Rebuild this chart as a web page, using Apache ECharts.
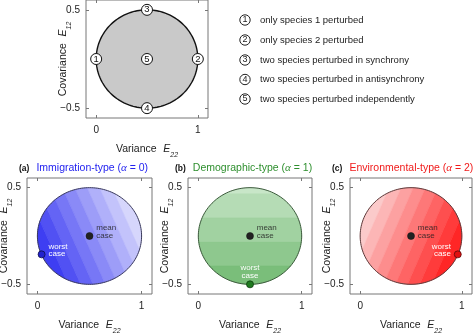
<!DOCTYPE html>
<html><head><meta charset="utf-8">
<script src="https://cdn.jsdelivr.net/npm/echarts@6/dist/echarts.min.js"></script>
<style>html,body{margin:0;padding:0;background:#fff}#c{width:474px;height:333px}</style>
</head><body><div id="c"></div>
<script>
// ---------------- data ----------------
const xTickValues = [0, 1];
const yTickValues = [-0.5, 0.5];
const xRange = [-0.1, 1.1];
const yRange = [-0.6, 0.6];
const circleCenter = [0.5, 0];
const circleRadius = 0.5;
const caseNumbers = ['1', '2', '3', '4', '5'];
const caseE22 = [0, 1, 0.5, 0.5, 0.5];
const caseE12 = [0, 0, 0.5, -0.5, 0];
const legendTexts = [
  'only species 1 perturbed',
  'only species 2 perturbed',
  'two species perturbed in synchrony',
  'two species perturbed in antisynchrony',
  'two species perturbed independently'
];
const panelLetters = ['(a)', '(b)', '(c)'];
const panelTypes = ['Immigration-type', 'Demographic-type', 'Environmental-type'];
const alphaValues = [0, 1, 2];
const meanE22 = [0.5, 0.5, 0.5];
const meanE12 = [0, 0, 0];
const worstE22 = [0.04, 0.5, 0.96];
const worstE12 = [-0.19, -0.5, -0.19];
// band edges: signed distance from the circle centre towards the worst case
const bandEdgesA = [-0.5, -0.39, -0.28, -0.17, -0.06, 0.05, 0.16, 0.27, 0.38, 0.5];
const bandEdgesB = [-0.5, -0.44, -0.19, 0.06, 0.31, 0.5];
const bandEdgesC = [-0.5, -0.39, -0.28, -0.17, -0.06, 0.05, 0.16, 0.27, 0.38, 0.5];

// ---------------- styles ----------------
const FONT = 'Liberation Sans, Arial, Helvetica, sans-serif';
const panelColors = ['#2323f0', '#2e8f2e', '#f01a1a'];
const bandLight = [[214, 214, 252], [200, 230, 200], [251, 202, 202]];
const bandDark = [[62, 62, 242], [122, 190, 122], [255, 38, 38]];
const worstFill = ['#2222cc', '#1f7a1f', '#e01010'];
const worstBorder = ['#10104a', '#0d3d0d', '#5a0a0a'];
const outlineColors = ['#3a3a5a', '#3d5a3d', '#5a3a3a'];
const bandEdges = [bandEdgesA, bandEdgesB, bandEdgesC];

const grids = [
  {left: 86, top: 0, width: 122, height: 118},
  {left: 27, top: 178, width: 125, height: 116},
  {left: 188, top: 178, width: 124, height: 116},
  {left: 350, top: 178, width: 122, height: 116}
];

const chart = echarts.init(document.getElementById('c'), null, {renderer: 'canvas'});

const xAxes = [], yAxes = [];
const xName = '{n|Variance}  {e|E}{s|22}';
const yName = '{n|Covariance}  {e|E}{s|12}';
const nameRich = {
  n: {fontSize: 10.5, fontFamily: FONT, color: '#222', lineHeight: 13, verticalAlign: 'top'},
  e: {fontSize: 10.5, fontFamily: FONT, fontStyle: 'italic', color: '#222', lineHeight: 13, verticalAlign: 'top'},
  s: {fontSize: 7, fontFamily: FONT, fontStyle: 'italic', color: '#222', lineHeight: 8, padding: [8, 0, 0, 0], verticalAlign: 'top'}
};
grids.forEach((g, gi) => {
  const tick = {show: true, inside: true, length: 3, lineStyle: {color: '#777', width: 1}, customValues: xTickValues};
  xAxes.push({
    gridIndex: gi, type: 'value', min: xRange[0], max: xRange[1], position: 'bottom',
    axisLine: {show: false, onZero: false}, splitLine: {show: false},
    axisTick: tick,
    axisLabel: {show: true, customValues: xTickValues, margin: 7, fontSize: 10, fontFamily: FONT, color: '#222',
      formatter: v => String(v)},
    name: xName, nameLocation: 'middle', nameGap: 26, nameMoveOverlap: false, nameTextStyle: {rich: nameRich}
  });
  xAxes.push({
    gridIndex: gi, type: 'value', min: xRange[0], max: xRange[1], position: 'top',
    axisLine: {show: false, onZero: false}, splitLine: {show: false},
    axisTick: tick, axisLabel: {show: false}
  });
  const ytick = {show: true, inside: true, length: 3, lineStyle: {color: '#777', width: 1}, customValues: yTickValues};
  yAxes.push({
    gridIndex: gi, type: 'value', min: yRange[0], max: yRange[1], position: 'left',
    axisLine: {show: false, onZero: false}, splitLine: {show: false},
    axisTick: ytick,
    axisLabel: {show: true, customValues: yTickValues, margin: 6, fontSize: 10, fontFamily: FONT, color: '#222',
      formatter: v => (v < 0 ? '\u2212' + String(-v) : String(v))},
    name: yName, nameLocation: 'middle', nameGap: 15, nameRotate: 90, nameMoveOverlap: false, nameTextStyle: {rich: nameRich}
  });
  yAxes.push({
    gridIndex: gi, type: 'value', min: yRange[0], max: yRange[1], position: 'right',
    axisLine: {show: false, onZero: false}, splitLine: {show: false},
    axisTick: ytick, axisLabel: {show: false}
  });
});

function circlePoints(api, n) {
  const pts = [];
  for (let j = 0; j <= n; j++) {
    const p = 2 * Math.PI * j / n;
    pts.push(api.coord([circleCenter[0] + circleRadius * Math.cos(p), circleCenter[1] + circleRadius * Math.sin(p)]));
  }
  return pts;
}
function mix(a, b, t) {
  return 'rgb(' + a.map((v, i) => Math.round(v + (b[i] - v) * t)).join(',') + ')';
}
function clamp(v) { return Math.max(-1, Math.min(1, v)); }

const series = [];
// top panel: shaded circle
series.push({
  type: 'custom', xAxisIndex: 0, yAxisIndex: 0, data: [[circleCenter[0], circleCenter[1]]],
  renderItem: (params, api) => ({
    type: 'polygon', shape: {points: circlePoints(api, 160)},
    style: {fill: '#c9c9c9', stroke: '#111', lineWidth: 1.4}
  }), z: 2
});
series.push({
  type: 'scatter', xAxisIndex: 0, yAxisIndex: 0,
  data: caseE22.map((x, i) => [x, caseE12[i], caseNumbers[i]]),
  symbol: 'circle', symbolSize: 11,
  itemStyle: {color: '#fff', borderColor: '#111', borderWidth: 1, opacity: 1},
  label: {show: true, position: 'inside', formatter: p => p.value[2], fontSize: 9.5, fontFamily: FONT, color: '#111'},
  z: 5
});

// bottom panels
for (let k = 0; k < 3; k++) {
  const ax = 2 * (k + 1);
  const edges = bandEdges[k];
  const nb = edges.length - 1;
  const th = Math.atan2((worstE12[k] - circleCenter[1]) / circleRadius, (worstE22[k] - circleCenter[0]) / circleRadius);
  series.push({
    type: 'custom', xAxisIndex: ax, yAxisIndex: ax,
    data: edges.slice(1).map((e, i) => [edges[i], e]),
    renderItem: (params, api) => {
      const i = params.dataIndex;
      const s0 = edges[i], s1 = edges[i + 1];
      const a1 = Math.acos(clamp(s1 / circleRadius)), a0 = Math.acos(clamp(s0 / circleRadius));
      const pts = [];
      const N = 40;
      for (let j = 0; j <= N; j++) {
        const p = th + a1 + (a0 - a1) * j / N;
        pts.push(api.coord([circleCenter[0] + circleRadius * Math.cos(p), circleCenter[1] + circleRadius * Math.sin(p)]));
      }
      for (let j = 0; j <= N; j++) {
        const p = th - a0 + (a0 - a1) * j / N;
        pts.push(api.coord([circleCenter[0] + circleRadius * Math.cos(p), circleCenter[1] + circleRadius * Math.sin(p)]));
      }
      const c = mix(bandLight[k], bandDark[k], nb > 1 ? i / (nb - 1) : 0);
      return {type: 'polygon', shape: {points: pts}, style: {fill: c, stroke: c, lineWidth: 0.5}};
    },
    z: 2
  });
  series.push({
    type: 'custom', xAxisIndex: ax, yAxisIndex: ax, data: [[circleCenter[0], circleCenter[1]]],
    renderItem: (params, api) => ({
      type: 'polygon', shape: {points: circlePoints(api, 160)},
      style: {fill: null, stroke: outlineColors[k], lineWidth: 1}
    }), z: 3
  });
  series.push({
    type: 'scatter', xAxisIndex: ax, yAxisIndex: ax,
    data: [[meanE22[k], meanE12[k]]], symbolSize: 7,
    itemStyle: {color: '#222', borderColor: '#111', borderWidth: 0.5, opacity: 1},
    label: {show: true, position: 'right', distance: 3, offset: [0, -4], formatter: 'mean\ncase',
      fontSize: 8, lineHeight: 7.5, fontFamily: FONT, color: 'rgba(30,30,30,0.85)', align: 'left'},
    z: 5
  });
  const wl = k === 0 ? {position: 'right', distance: 3, offset: [0, -4], align: 'left'}
    : k === 1 ? {position: 'top', distance: 1, align: 'center'}
    : {position: 'left', distance: 3, offset: [0, -4], align: 'right'};
  series.push({
    type: 'scatter', xAxisIndex: ax, yAxisIndex: ax,
    data: [[worstE22[k], worstE12[k]]], symbolSize: 7,
    itemStyle: {color: worstFill[k], borderColor: worstBorder[k], borderWidth: 0.8, opacity: 1},
    label: Object.assign({show: true, formatter: 'worst\ncase', fontSize: 8, lineHeight: 7.5, fontFamily: FONT, color: '#fff'}, wl),
    z: 5
  });
}

const titleLefts = [19, 175, 332];
const titles = panelTypes.map((t, k) => ({
  left: titleLefts[k], top: 159, padding: 0,
  text: '{b|' + panelLetters[k] + '} {t|' + t + ' (}{g|\u03b1}{t| = ' + alphaValues[k] + ')}',
  textStyle: {fontWeight: 'normal', rich: {
    b: {fontSize: 8.5, fontWeight: 'bold', fontFamily: FONT, color: '#111', padding: [1, 2, 0, 0]},
    t: {fontSize: 10.5, fontWeight: 'normal', fontFamily: FONT, color: panelColors[k]},
    g: {fontSize: 11, fontWeight: 'normal', fontFamily: 'Liberation Serif, DejaVu Serif, serif', fontStyle: 'italic', color: panelColors[k]}
  }}
}));

const legendRowsY = [20, 40, 60, 79.5, 99];
const graphic = [];
legendTexts.forEach((txt, i) => {
  graphic.push({type: 'circle', shape: {cx: 245, cy: legendRowsY[i], r: 5.2},
    style: {fill: '#fff', stroke: '#222', lineWidth: 1}});
  graphic.push({type: 'text', x: 245, y: legendRowsY[i],
    style: {text: caseNumbers[i], fontSize: 9, fontFamily: FONT, fill: '#222', align: 'center', verticalAlign: 'middle'}});
  graphic.push({type: 'text', x: 260, y: legendRowsY[i],
    style: {text: txt, fontSize: 9.5, fontFamily: FONT, fill: '#222', align: 'left', verticalAlign: 'middle'}});
});

chart.setOption({
  animation: false,
  backgroundColor: '#fff',
  title: titles,
  grid: grids.map(g => Object.assign({show: true, borderColor: '#777', borderWidth: 1, backgroundColor: 'transparent',
    containLabel: false, outerBoundsMode: 'none'}, g)),
  xAxis: xAxes,
  yAxis: yAxes,
  series: series,
  graphic: graphic
});
</script></body></html>
